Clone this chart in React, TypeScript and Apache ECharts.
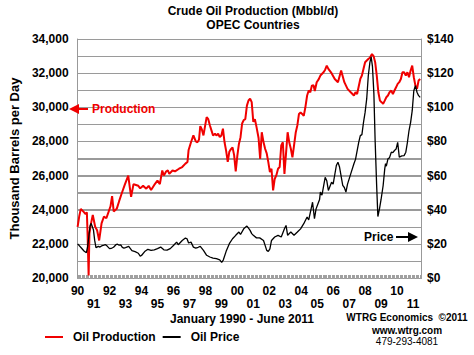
import React, { useEffect, useRef } from 'react';
import * as echarts from 'echarts';

// [decimal year, thousand barrels per day]
const productionData: [number, number][] = [
  [1990.0, 23000], [1990.1, 23600], [1990.2, 24050], [1990.35, 23900], [1990.5, 23750],
  [1990.58, 23850], [1990.63, 22400], [1990.69, 20150], [1990.74, 22600], [1990.82, 23100],
  [1990.95, 23700], [1991.1, 23000], [1991.22, 22800], [1991.35, 22200], [1991.5, 23200],
  [1991.65, 23600], [1991.8, 23500], [1991.95, 23900], [1992.06, 24200], [1992.16, 24800],
  [1992.26, 23900], [1992.45, 24050], [1992.6, 24500], [1992.77, 24980], [1992.95, 25450],
  [1993.17, 26000], [1993.27, 25300], [1993.35, 24750], [1993.5, 25500], [1993.65, 25450],
  [1993.8, 25400], [1993.92, 25250], [1994.1, 25400], [1994.3, 25230], [1994.45, 25400],
  [1994.6, 25150], [1994.8, 25450], [1995.0, 25700], [1995.15, 25500], [1995.3, 26300],
  [1995.4, 26000], [1995.55, 26250], [1995.65, 26300], [1995.74, 26100], [1995.94, 26300],
  [1996.1, 26250], [1996.35, 26400], [1996.55, 26500], [1996.75, 26700], [1996.88, 26800],
  [1996.95, 27500], [1997.1, 27950], [1997.25, 28350], [1997.4, 28000], [1997.5, 27950],
  [1997.6, 28100], [1997.68, 28900], [1997.78, 28700], [1997.88, 28350], [1997.98, 28900],
  [1998.08, 29420], [1998.18, 29300], [1998.28, 28950], [1998.38, 28650], [1998.48, 28350],
  [1998.6, 28450], [1998.69, 28350], [1998.8, 28450], [1998.9, 28250], [1999.0, 28350],
  [1999.1, 28750], [1999.2, 27950], [1999.3, 27450], [1999.4, 26800], [1999.5, 27400],
  [1999.6, 27550], [1999.7, 27650], [1999.8, 27200], [1999.9, 26250], [2000.0, 27150],
  [2000.1, 27850], [2000.2, 28250], [2000.3, 29050], [2000.4, 29250], [2000.5, 29300],
  [2000.6, 30100], [2000.7, 30400], [2000.8, 30500], [2000.9, 30300], [2001.0, 29150],
  [2001.1, 29300], [2001.2, 28850], [2001.33, 28200], [2001.43, 26980], [2001.53, 28540],
  [2001.64, 27960], [2001.74, 27570], [2001.84, 27300], [2001.94, 26790], [2002.04, 26200],
  [2002.14, 26400], [2002.24, 25130], [2002.34, 25800], [2002.44, 26010], [2002.55, 26400],
  [2002.65, 26500], [2002.75, 27760], [2002.85, 27950], [2002.95, 26100], [2003.05, 27300],
  [2003.15, 28540], [2003.25, 27950], [2003.35, 27570], [2003.45, 27070], [2003.55, 27750],
  [2003.66, 28540], [2003.76, 28950], [2003.86, 29610], [2003.96, 29700], [2004.06, 29610],
  [2004.16, 29500], [2004.26, 30000], [2004.37, 30690], [2004.47, 30980], [2004.57, 30880],
  [2004.67, 31270], [2004.77, 31300], [2004.85, 30950], [2004.97, 31470], [2005.1, 31650],
  [2005.2, 31860], [2005.4, 32050], [2005.5, 32200], [2005.6, 32440], [2005.7, 32250],
  [2005.9, 32000], [2006.1, 31660], [2006.3, 31470], [2006.5, 32150], [2006.7, 31470],
  [2006.9, 31080], [2007.1, 30880], [2007.3, 30690], [2007.4, 30880], [2007.5, 30780],
  [2007.7, 31660], [2007.8, 31860], [2008.0, 32640], [2008.2, 32830], [2008.3, 32900],
  [2008.43, 33120], [2008.53, 33000], [2008.63, 32640], [2008.73, 31860], [2008.83, 30880],
  [2008.93, 30390], [2009.03, 30300], [2009.13, 30200], [2009.23, 30390], [2009.33, 30590],
  [2009.43, 30690], [2009.53, 30880], [2009.64, 30980], [2009.74, 30780], [2009.84, 30980],
  [2009.94, 31170], [2010.04, 31370], [2010.14, 31470], [2010.24, 31660], [2010.34, 32050],
  [2010.44, 32050], [2010.55, 31860], [2010.65, 32050], [2010.75, 31760], [2010.85, 32150],
  [2010.95, 32440], [2011.05, 31760], [2011.15, 31270], [2011.25, 31080], [2011.35, 31570],
  [2011.45, 31660],
];

// [decimal year, $ per barrel]
const priceData: [number, number][] = [
  [1990.0, 20.0], [1990.1, 19.0], [1990.25, 17.4], [1990.4, 15.8], [1990.55, 14.8],
  [1990.63, 18.5], [1990.7, 24.0], [1990.78, 30.5], [1990.85, 32.0], [1990.99, 28.3],
  [1991.07, 22.0], [1991.15, 17.8], [1991.3, 18.5], [1991.4, 18.1], [1991.5, 18.8],
  [1991.65, 19.2], [1991.75, 19.5], [1991.85, 18.7], [1992.0, 17.2], [1992.1, 17.3],
  [1992.25, 18.0], [1992.4, 19.5], [1992.5, 19.8], [1992.6, 19.2], [1992.7, 19.4],
  [1992.8, 17.9], [1992.9, 17.5], [1993.0, 17.8], [1993.2, 18.5], [1993.4, 16.0],
  [1993.6, 15.4], [1993.8, 14.5], [1993.92, 12.8], [1994.0, 13.2], [1994.2, 15.5],
  [1994.4, 16.8], [1994.6, 16.2], [1994.8, 16.5], [1995.0, 17.2], [1995.2, 18.1],
  [1995.4, 16.5], [1995.6, 16.3], [1995.8, 17.2], [1996.0, 19.0], [1996.2, 21.0],
  [1996.3, 19.5], [1996.55, 22.0], [1996.75, 23.4], [1996.85, 23.0], [1996.95, 20.5],
  [1997.1, 21.0], [1997.25, 18.1], [1997.4, 17.5], [1997.55, 18.0], [1997.68, 18.5],
  [1997.88, 16.2], [1998.08, 13.3], [1998.28, 12.3], [1998.48, 11.7], [1998.69, 11.3],
  [1998.9, 10.6], [1999.02, 9.2], [1999.12, 10.5], [1999.3, 15.6], [1999.5, 20.1],
  [1999.7, 23.0], [1999.9, 25.0], [2000.1, 26.9], [2000.2, 25.5], [2000.4, 28.8],
  [2000.6, 30.4], [2000.7, 29.2], [2000.8, 27.9], [2000.9, 26.0], [2001.0, 25.0],
  [2001.2, 23.5], [2001.4, 23.5], [2001.64, 22.0], [2001.74, 19.1], [2001.84, 16.2],
  [2001.94, 15.6], [2002.04, 17.0], [2002.14, 22.0], [2002.34, 24.0], [2002.55, 25.0],
  [2002.75, 24.0], [2002.95, 28.8], [2003.05, 30.8], [2003.15, 25.0], [2003.35, 26.9],
  [2003.55, 25.0], [2003.76, 26.9], [2003.96, 28.8], [2004.16, 31.8], [2004.26, 33.7],
  [2004.37, 35.7], [2004.47, 34.0], [2004.62, 40.5], [2004.71, 44.4], [2004.83, 34.7],
  [2004.93, 40.5], [2005.05, 43.5], [2005.15, 46.0], [2005.2, 50.3], [2005.3, 48.5],
  [2005.5, 59.0], [2005.6, 57.0], [2005.7, 51.3], [2005.9, 56.1], [2006.0, 55.0],
  [2006.2, 65.9], [2006.3, 67.8], [2006.4, 65.0], [2006.6, 54.2], [2006.7, 53.0],
  [2006.8, 50.3], [2006.9, 55.0], [2007.1, 61.0], [2007.3, 66.9], [2007.4, 69.5],
  [2007.6, 79.5], [2007.7, 83.4], [2007.8, 84.0], [2007.9, 91.2], [2008.0, 97.0],
  [2008.1, 104.9], [2008.2, 118.5], [2008.3, 126.3], [2008.38, 129.5], [2008.46, 124.0],
  [2008.55, 108.0], [2008.63, 80.0], [2008.72, 55.0], [2008.8, 36.0], [2008.9, 40.5],
  [2009.0, 46.0], [2009.13, 54.2], [2009.23, 63.9], [2009.28, 67.0], [2009.33, 65.5],
  [2009.43, 69.8], [2009.53, 70.5], [2009.64, 73.7], [2009.74, 73.5], [2009.84, 74.7],
  [2009.94, 75.5], [2010.04, 79.5], [2010.14, 70.8], [2010.3, 71.5], [2010.44, 71.7],
  [2010.55, 73.7], [2010.65, 79.5], [2010.75, 86.4], [2010.85, 91.2], [2010.95, 98.0],
  [2011.05, 109.7], [2011.15, 112.7], [2011.25, 108.8], [2011.35, 106.8], [2011.45, 105.8],
];

const FONT = '"Liberation Sans", Arial, Helvetica, sans-serif';
const RED = '#f00000';
const GRID = '#9a9a9a';
const X_MIN = 1990;
const X_MAX = 2011.5;
const Y_MIN = 20000;
const Y_MAX = 34000;
const Y_STEP = 1000;

const withCommas = (v: number) => String(v).replace(/\B(?=(\d{3})+(?!\d))/g, ',');
const isInt = (v: number) => Math.abs(v - Math.round(v)) < 1e-6;
const yearLabel = (v: number, wantEven: boolean) => {
  if (!isInt(v)) return '';
  const y = Math.round(v);
  if ((y % 2 === 0) !== wantEven) return '';
  return String(y % 100).padStart(2, '0');
};

export default function App() {
  const ref = useRef<HTMLDivElement>(null);
  useEffect(() => {
    if (!ref.current) return;
    const chart = echarts.init(ref.current, undefined, { renderer: 'svg' });
    const labelStyle = { color: '#000', fontFamily: FONT, fontWeight: 'bold' as const, fontSize: 12 };
    const baseX = { type: 'value', min: X_MIN, max: X_MAX, splitLine: { show: false } };

    const staticGraphics: any[] = [
      { type: 'polygon', z: 10, shape: { points: [[69, 109], [79, 104], [79, 114]] }, style: { fill: RED } },
      { type: 'line', z: 10, shape: { x1: 78, y1: 109, x2: 88, y2: 109 }, style: { stroke: RED, lineWidth: 2 } },
      {
        type: 'text', z: 10, x: 92, y: 109,
        style: { text: 'Production', fill: RED, font: `bold 12px ${FONT}`, textAlign: 'left', textVerticalAlign: 'middle' },
      },
      {
        type: 'text', z: 10, x: 364, y: 237,
        style: { text: 'Price', fill: '#000', font: `bold 12px ${FONT}`, textAlign: 'left', textVerticalAlign: 'middle' },
      },
      { type: 'line', z: 10, shape: { x1: 396, y1: 237, x2: 408, y2: 237 }, style: { stroke: '#000', lineWidth: 2 } },
      { type: 'polygon', z: 10, shape: { points: [[418, 237], [408, 232], [408, 242]] }, style: { fill: '#000' } },
      {
        type: 'text', x: 242, y: 319,
        style: { text: 'January 1990 - June 2011', fill: '#000', font: `bold 12px ${FONT}`, textAlign: 'center', textVerticalAlign: 'middle' },
      },
      {
        type: 'text', x: 407, y: 317,
        style: { text: 'WTRG Economics  \u00a92011', fill: '#000', font: `bold 10px ${FONT}`, textAlign: 'center', textVerticalAlign: 'middle' },
      },
      {
        type: 'text', x: 407, y: 330,
        style: { text: 'www.wtrg.com', fill: '#000', font: `bold 10px ${FONT}`, textAlign: 'center', textVerticalAlign: 'middle' },
      },
      {
        type: 'text', x: 407, y: 341,
        style: { text: '479-293-4081', fill: '#000', font: `10px ${FONT}`, textAlign: 'center', textVerticalAlign: 'middle' },
      },
    ];

    chart.setOption({
      animation: false,
      backgroundColor: '#fff',
      title: {
        text: 'Crude Oil Production (Mbbl/d)\nOPEC Countries',
        left: 253,
        top: 4,
        textAlign: 'center',
        padding: 0,
        textStyle: { ...labelStyle, lineHeight: 14 },
      },
      grid: { left: 66, right: 53, top: 39, bottom: 77, containLabel: false },
      legend: {
        left: 45,
        top: 331,
        icon: 'rect',
        itemWidth: 18,
        itemHeight: 2,
        itemGap: 7,
        padding: 0,
        textStyle: { ...labelStyle, padding: [0, 0, 0, 5] },
        data: ['Oil Production', 'Oil Price'],
      },
      xAxis: [
        {
          ...baseX,
          interval: 1,
          position: 'bottom',
          axisLine: { show: true, lineStyle: { color: '#999', width: 1 } },
          axisTick: { show: false },
          axisLabel: { ...labelStyle, margin: 7, showMaxLabel: false, formatter: (v: number) => yearLabel(v, true) },
        },
        {
          ...baseX,
          interval: 1,
          position: 'bottom',
          axisLine: { show: false },
          axisTick: { show: false },
          axisLabel: { ...labelStyle, margin: 20, showMaxLabel: false, formatter: (v: number) => yearLabel(v, false) },
        },
      ],
      yAxis: [
        {
          type: 'value',
          min: Y_MIN,
          max: Y_MAX,
          interval: Y_STEP,
          position: 'left',
          name: 'Thousand Barrels per Day',
          nameLocation: 'middle',
          nameGap: 53,
          nameTextStyle: { ...labelStyle, fontSize: 13 },
          axisLine: { show: true, lineStyle: { color: '#999' } },
          axisTick: { show: false },
          splitLine: { show: true, lineStyle: { color: GRID, width: 1 } },
          axisLabel: {
            ...labelStyle,
            margin: 9,
            formatter: (v: number) => (Math.round(v) % 2000 === 0 ? withCommas(v) : ''),
          },
        },
        {
          type: 'value',
          min: 0,
          max: 140,
          interval: 20,
          position: 'right',
          axisLine: { show: true, lineStyle: { color: '#999' } },
          axisTick: { show: false },
          splitLine: { show: false },
          axisLabel: { ...labelStyle, margin: 6, formatter: (v: number) => '$' + v },
        },
      ],
      graphic: staticGraphics,
      series: [
        {
          name: 'Oil Production',
          type: 'line',
          z: 3,
          xAxisIndex: 0,
          yAxisIndex: 0,
          data: productionData,
          showSymbol: false,
          symbol: 'none',
          lineStyle: { color: RED, width: 2 },
          itemStyle: { color: RED },
        },
        {
          name: 'Oil Price',
          type: 'line',
          z: 4,
          xAxisIndex: 0,
          yAxisIndex: 1,
          data: priceData,
          showSymbol: false,
          symbol: 'none',
          lineStyle: { color: '#000', width: 1.3 },
          itemStyle: { color: '#000' },
        },
      ],
    });

    // gridlines and monthly tick marks placed through the axes' scales
    const extra: any[] = [];
    const xl = chart.convertToPixel({ xAxisIndex: 0 }, X_MIN) as number;
    const xr = chart.convertToPixel({ xAxisIndex: 0 }, X_MAX) as number;
    for (let v = Y_MIN + Y_STEP; v <= Y_MAX; v += Y_STEP) {
      const py = Math.round(chart.convertToPixel({ yAxisIndex: 0 }, v) as number) + 0.5;
      extra.push({
        type: 'line', silent: true, z: 1,
        shape: { x1: xl, y1: py, x2: xr, y2: py },
        style: { stroke: GRID, lineWidth: 1 },
      });
    }
    const yBottom = Math.round(chart.convertToPixel({ yAxisIndex: 0 }, Y_MIN) as number);
    for (let m = 0; m <= Math.round((X_MAX - X_MIN) * 12); m++) {
      const px = Math.round(chart.convertToPixel({ xAxisIndex: 0 }, X_MIN + m / 12) as number) + 0.5;
      extra.push({
        type: 'line', silent: true, z: 1,
        shape: { x1: px, y1: yBottom - 3, x2: px, y2: yBottom + 1 },
        style: { stroke: '#a0a0a0', lineWidth: 1 },
      });
    }
    chart.setOption({ graphic: [...staticGraphics, ...extra] });

    return () => chart.dispose();
  }, []);
  return <div ref={ref} style={{ position: 'absolute', left: 0, top: 0, width: 474, height: 355 }} />;
}
